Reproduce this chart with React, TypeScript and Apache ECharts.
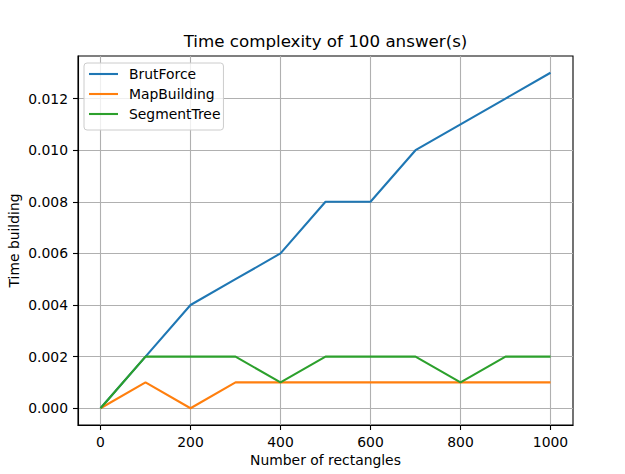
import { useEffect, useRef } from 'react';
import * as echarts from 'echarts';

const rectangles = [0, 100, 200, 300, 400, 500, 600, 700, 800, 900, 1000];
const brutForce = [0, 0.002, 0.004, 0.005, 0.006, 0.008, 0.008, 0.01, 0.011, 0.012, 0.013];
const mapBuilding = [0, 0.001, 0, 0.001, 0.001, 0.001, 0.001, 0.001, 0.001, 0.001, 0.001];
const segmentTree = [0, 0.002, 0.002, 0.002, 0.001, 0.002, 0.002, 0.002, 0.001, 0.002, 0.002];

const xTicks = [0, 200, 400, 600, 800, 1000];
const yTicks = [0, 0.002, 0.004, 0.006, 0.008, 0.01, 0.012];

const FONT = 'DejaVu Sans';

export default function App() {
  const chartRef = useRef<HTMLDivElement | null>(null);

  useEffect(() => {
    const element = chartRef.current;
    if (!element) {
      return;
    }

    const chart = echarts.init(element, null, { renderer: 'svg' });

    const makeSeries = (name: string, values: number[], color: string) => ({
      name,
      type: 'line',
      data: rectangles.map((x, i) => [x, values[i]]),
      symbol: 'none',
      lineStyle: { width: 2.1, color },
      itemStyle: { color },
    });

    chart.setOption({
      animation: false,
      grid: {
        left: 78,
        right: 52,
        top: 56,
        bottom: 49,
        show: true,
        borderColor: '#000',
        borderWidth: 1.1,
        outerBoundsMode: 'none',
      },
      graphic: [
        {
          type: 'text',
          x: 325.5,
          y: 41,
          style: {
            text: 'Time complexity of 100 answer(s)',
            fontFamily: FONT,
            fontSize: 16.7,
            fill: '#000',
            textAlign: 'center',
            textVerticalAlign: 'middle',
          },
        },
      ],
      legend: {
        orient: 'vertical',
        left: 84,
        top: 63,
        padding: [4, 3, 9, 5],
        itemGap: 6,
        itemWidth: 29,
        itemHeight: 14,
        icon: 'path://M0,0 L29,0 L29,2.1 L0,2.1 Z',
        itemStyle: { borderWidth: 0 },
        borderColor: '#cccccc',
        borderWidth: 1,
        borderRadius: 3,
        backgroundColor: 'rgba(255,255,255,0.8)',
        textStyle: {
          fontFamily: FONT,
          fontSize: 13.9,
          color: '#000',
          lineHeight: 14,
          padding: [0, 0, 0, 6],
        },
      },
      xAxis: {
        type: 'value',
        min: -50,
        max: 1050,
        name: 'Number of rectangles',
        nameLocation: 'middle',
        nameGap: 28,
        nameMoveOverlap: false,
        nameTextStyle: { fontFamily: FONT, fontSize: 13.9, color: '#000' },
        axisLine: { show: true, onZero: false, lineStyle: { color: '#000', width: 1.1 } },
        axisTick: { show: true, inside: false, length: 5, customValues: xTicks, lineStyle: { color: '#000', width: 1.1 } },
        axisLabel: {
          customValues: xTicks,
          margin: 10,
          fontFamily: FONT,
          fontSize: 13.9,
          color: '#000',
          formatter: (v: number) => String(v),
        },
        splitLine: { show: true, lineStyle: { color: '#b0b0b0', width: 1.1 } },
      },
      yAxis: {
        type: 'value',
        min: -0.00065,
        max: 0.01365,
        name: 'Time building',
        nameLocation: 'middle',
        nameGap: 57,
        nameMoveOverlap: false,
        nameTextStyle: { fontFamily: FONT, fontSize: 13.9, color: '#000' },
        axisLine: { show: true, onZero: false, lineStyle: { color: '#000', width: 1.1 } },
        axisTick: { show: true, inside: false, length: 5, customValues: yTicks, lineStyle: { color: '#000', width: 1.1 } },
        axisLabel: {
          customValues: yTicks,
          margin: 10,
          fontFamily: FONT,
          fontSize: 13.9,
          color: '#000',
          formatter: (v: number) => v.toFixed(3),
        },
        splitLine: { show: true, lineStyle: { color: '#b0b0b0', width: 1.1 } },
      },
      series: [
        makeSeries('BrutForce', brutForce, '#1f77b4'),
        makeSeries('MapBuilding', mapBuilding, '#ff7f0e'),
        makeSeries('SegmentTree', segmentTree, '#2ca02c'),
      ],
    });

    return () => {
      chart.dispose();
    };
  }, []);

  return (
    <div
      ref={chartRef}
      style={{ position: 'fixed', left: 0, top: 0, width: 625, height: 474, background: '#fff' }}
    />
  );
}
